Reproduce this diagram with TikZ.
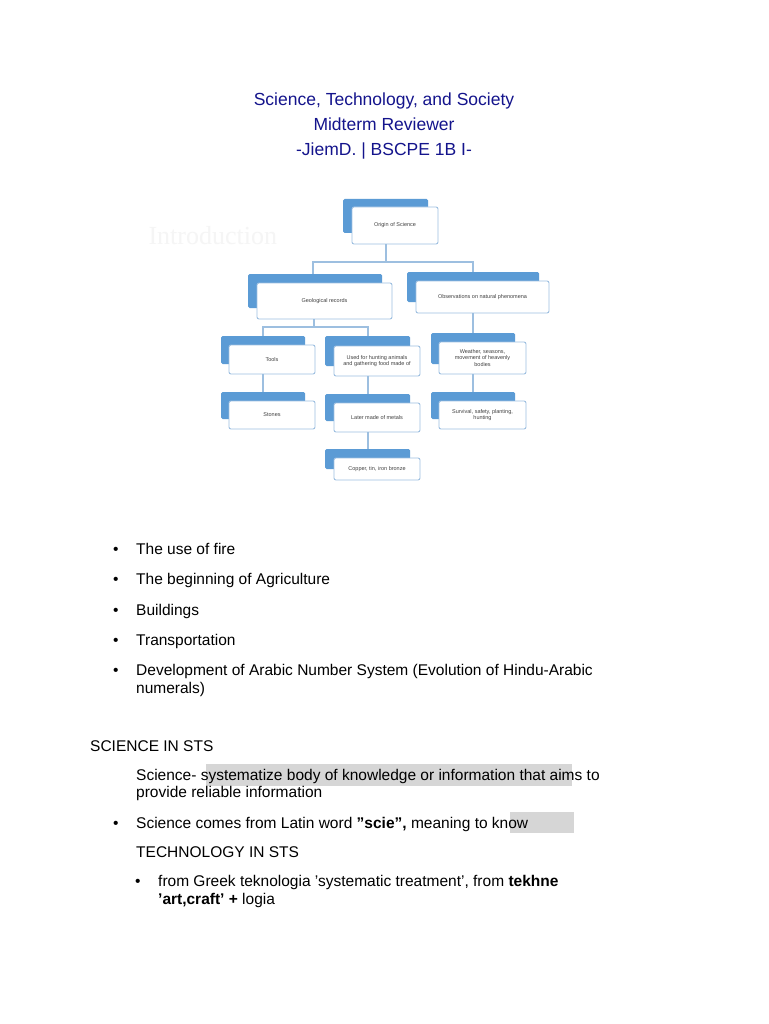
\documentclass[tikz,border=0pt]{standalone}
\usepackage{fontspec}
\setmainfont{Liberation Sans}
\begin{document}
\begin{tikzpicture}[x=1pt,y=-1pt,
  bl/.style={fill=bluebox,draw=none,rounded corners=1.5pt,inner sep=0pt},
  fr/.style={fill=white,draw=frline,line width=0.9pt,rounded corners=2pt,inner sep=1pt,font=\fontsize{5.5}{6.5}\selectfont,text=textgray,align=center},
  con/.style={draw=frline,line width=1.2pt},
  tt/.style={anchor=base,text=titleblue,font=\fontsize{17.5}{20}\selectfont},
  bt/.style={anchor=base west,inner sep=0pt,font=\fontsize{15.5}{18}\selectfont,text=black},
  hl/.style={fill=hlgray,draw=none}]
\definecolor{bluebox}{HTML}{5B9BD5}
\definecolor{frline}{HTML}{9DBFE0}
\definecolor{textgray}{HTML}{404040}
\definecolor{titleblue}{HTML}{14148C}
\definecolor{hlgray}{HTML}{D6D6D6}
\useasboundingbox (0,0) rectangle (768,1024);
\fill[white] (0,0) rectangle (768,1024);
% title
\node[tt] (t1) at (384,106) {Science, Technology, and Society};
\node[tt] (t2) at (384,131) {Midterm Reviewer};
\node[tt] (t3) at (384,156) {-JiemD. | BSCPE 1B I-};
% ghost text
\node[anchor=base west,text=black!4,font=\fontspec{Liberation Serif}\fontsize{26}{28}\selectfont] (ghost) at (145,244) {Introduction};
% boxes: blue rect then front node
\newcommand\obox[9]{%
  \node[bl,minimum width={#4-#2},minimum height={#5-#3}] (#1b) at ({(#2+#4)/2},{(#3+#5)/2}) {};
  \node[fr,minimum width={#8-#6},minimum height={#9-#7},text width={#8-#6-6}] (#1) at ({(#6+#8)/2},{(#7+#9)/2}) {};
}
\obox{orig}{343}{199}{428}{233}{352}{207}{438}{244}
\obox{geo}{248}{274}{382}{308}{257}{283}{392}{319}
\obox{obs}{407}{272}{539}{302}{416}{281}{549}{313}
\obox{tools}{221}{336}{305}{364}{229}{345}{315}{374}
\obox{used}{325}{336}{410}{366}{334}{346}{420}{376}
\obox{wea}{431}{333}{515}{364}{439}{342}{526}{374}
\obox{stones}{221}{392}{305}{419}{229}{401}{315}{429}
\obox{later}{325}{394}{410}{421}{334}{403}{420}{432}
\obox{surv}{431}{392}{515}{419}{439}{401}{526}{429}
\obox{copper}{325}{449}{410}{469}{334}{458}{420}{480}
\newcommand\blab[2]{\node[font=\fontsize{5.5}{6.5}\selectfont,text=textgray,align=center] at (#1) {#2};}
\blab{orig}{Origin of Science}
\blab{geo}{Geological records}
\blab{obs}{Observations on natural phenomena}
\blab{tools}{Tools}
\blab{used}{Used for hunting animals\\and gathering food made of}
\blab{wea}{Weather, seasons,\\movement of heavenly\\bodies}
\blab{stones}{Stones}
\blab{later}{Later made of metals}
\blab{surv}{Survival, safety, planting,\\hunting}
\blab{copper}{Copper, tin, iron bronze}
% connectors
\coordinate (c1) at (386,262);
\coordinate (c2) at (314,327);
\draw[con] (orig.south -| c1) -- (c1);
\draw[con] (c1) -| ([xshift=-1pt]geob.north -| 314,0);
\draw[con] (c1) -| (obsb.north -| 473,0);
\draw[con] (geo.south -| c2) -- (c2);
\draw[con] (c2) -| (toolsb.north -| 263,0);
\draw[con] (c2) -| (usedb.north -| 368,0);
\draw[con] (tools.south -| 263,0) -- (stonesb.north -| 263,0);
\draw[con] (used.south -| 368,0) -- (laterb.north -| 368,0);
\draw[con] (later.south -| 368,0) -- (copperb.north -| 368,0);
\draw[con] (obs.south -| 473,0) -- (weab.north -| 473,0);
\draw[con] (wea.south -| 473,0) -- (survb.north -| 473,0);
% bullets
\foreach \y/\t [count=\i] in {554/The use of fire,584/The beginning of Agriculture,615/Buildings,645/Transportation,675/Development of Arabic Number System (Evolution of Hindu-Arabic}{
  \node[bt] (bul\i) at (113,\y) {•};
  \node[bt] (item\i) at (136,\y) {\t};
}
\node[bt] (item6) at (136,693) {numerals)};
\node[bt] (h1) at (90,751) {SCIENCE IN STS};
\fill[hlgray] (206,764) rectangle (572,786);
\fill[hlgray] (510,812) rectangle (574,833);
\node[bt] (s1) at (136,780) {Science- systematize body of knowledge or information that aims to};
\node[bt] (s2) at (136,797) {provide reliable information};
\node[bt] (bul7) at (113,828) {•};
\node[bt] (s3) at (136,828) {Science comes from Latin word \textbf{"scie",} meaning to know};
\node[bt] (h2) at (136,857) {TECHNOLOGY IN STS};
\node[bt] (bul8) at (135,886) {•};
\node[bt] (s4) at (158,886) {from Greek teknologia 'systematic treatment', from \textbf{tekhne}};
\node[bt] (s5) at (158,904) {\textbf{'art,craft' +} logia};
\end{tikzpicture}
\end{document}
